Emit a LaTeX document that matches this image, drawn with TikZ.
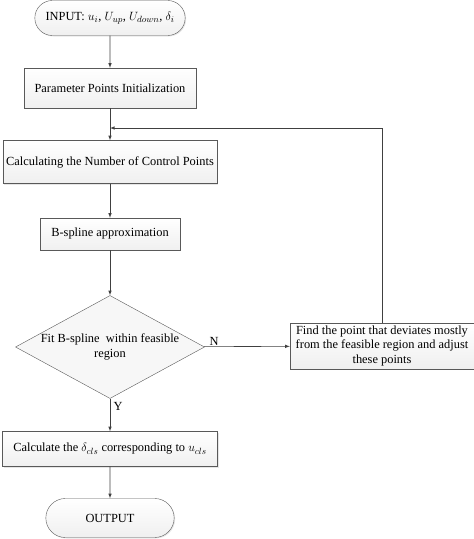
\documentclass[tikz,border=0pt]{standalone}
\usepackage{fontspec}
\setmainfont{Liberation Serif}
\usepackage{tikz}
\usetikzlibrary{shapes,arrows,positioning,calc,shadows}

\begin{document}
\begin{tikzpicture}[x=1pt, y=-1pt, font=\fontsize{12.4}{14.5}\selectfont]
    % Define styles
    \tikzstyle{terminal} = [rounded rectangle, draw=gray!70!black, top color=white, bottom color=gray!12, drop shadow={opacity=0.2, shadow xshift=1pt, shadow yshift=-1pt}]
    \tikzstyle{process} = [rectangle, draw=gray!70!black, top color=white, bottom color=gray!12, text centered, drop shadow={opacity=0.2, shadow xshift=1pt, shadow yshift=-1pt}]
    \tikzstyle{decision} = [diamond, draw=gray!70!black, fill=gray!6, aspect=1.83, minimum width=189pt, minimum height=103pt, inner sep=0pt, align=center]
    \tikzstyle{line} = [draw=black!75, line width=0.6pt, -latex]

    \useasboundingbox (0,0) rectangle (474,539);

    % Main flow
    \node[terminal, minimum width=157pt, minimum height=35pt] (input) at (110,18) {INPUT: $u_i$, $U_{up}$, $U_{down}$, $\delta_i$};
    \node[process, minimum width=172pt, minimum height=40pt] (init) at (110,88) {Parameter Points Initialization};
    \coordinate (join) at (110,128);
    \node[process, minimum width=213pt, minimum height=43pt] (count) at (110,162) {Calculating the Number of Control Points};
    \node[process, minimum width=140pt, minimum height=32pt] (approx) at (110,234) {B-spline approximation};
    \node[decision] (fit) at (110,347) {Fit B-spline\ \ within feasible\\region};
    \node[process, minimum width=184pt, minimum height=46pt, inner sep=1pt, align=center] (adjust) at (382,346) {Find the point that deviates mostly\\from the feasible region and adjust\\these points};
    \node[process, minimum width=215pt, minimum height=35pt] (delta) at (110,449) {Calculate the $\delta_{cls}$ corresponding to $u_{cls}$};
    \node[terminal, minimum width=135pt, minimum height=39pt] (output) at (110,518) {OUTPUT};

    % Connectors
    \draw[line] (input) -- (init);
    \draw[line] (init) -- (count);
    \draw[line] (count) -- (approx);
    \draw[line] (approx) -- (fit);
    \draw[line] (fit) -- node[pos=0.05, above right, inner sep=1pt] {N} (adjust);
    \draw[line] (adjust.north) |- (join);
    \draw[line] (fit) -- node[pos=0.25, right] {Y} (delta);
    \draw[line] (delta) -- (output);
\end{tikzpicture}
\end{document}
